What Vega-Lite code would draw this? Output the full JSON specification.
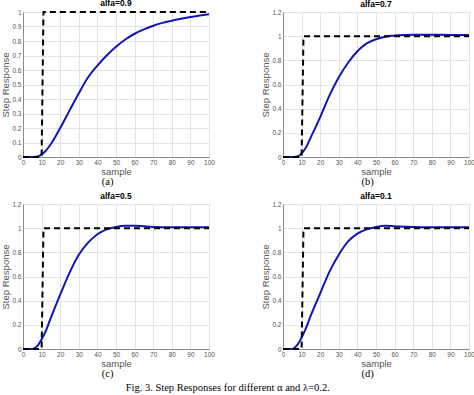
{
  "$schema": "https://vega.github.io/schema/vega-lite/v6.json",
  "padding": {"left": 0, "top": -2, "right": 0, "bottom": 0},
  "background": "white",
  "datasets": {
    "resp": [
      {"p": "a", "x": 0, "y": 0}, {"p": "a", "x": 5, "y": 0}, {"p": "a", "x": 7, "y": 0.002}, {"p": "a", "x": 9, "y": 0.01}, {"p": "a", "x": 10, "y": 0.018}, {"p": "a", "x": 12, "y": 0.04}, {"p": "a", "x": 15, "y": 0.09}, {"p": "a", "x": 20, "y": 0.2}, {"p": "a", "x": 25, "y": 0.32}, {"p": "a", "x": 30, "y": 0.44}, {"p": "a", "x": 35, "y": 0.55}, {"p": "a", "x": 40, "y": 0.63}, {"p": "a", "x": 45, "y": 0.7}, {"p": "a", "x": 50, "y": 0.76}, {"p": "a", "x": 55, "y": 0.81}, {"p": "a", "x": 60, "y": 0.85}, {"p": "a", "x": 65, "y": 0.88}, {"p": "a", "x": 70, "y": 0.905}, {"p": "a", "x": 75, "y": 0.925}, {"p": "a", "x": 80, "y": 0.94}, {"p": "a", "x": 85, "y": 0.953}, {"p": "a", "x": 90, "y": 0.965}, {"p": "a", "x": 95, "y": 0.976}, {"p": "a", "x": 100, "y": 0.985},
      {"p": "b", "x": 0, "y": 0}, {"p": "b", "x": 5, "y": 0}, {"p": "b", "x": 7, "y": 0.003}, {"p": "b", "x": 9, "y": 0.015}, {"p": "b", "x": 10, "y": 0.03}, {"p": "b", "x": 12, "y": 0.07}, {"p": "b", "x": 15, "y": 0.165}, {"p": "b", "x": 20, "y": 0.33}, {"p": "b", "x": 25, "y": 0.51}, {"p": "b", "x": 30, "y": 0.66}, {"p": "b", "x": 35, "y": 0.78}, {"p": "b", "x": 40, "y": 0.875}, {"p": "b", "x": 45, "y": 0.94}, {"p": "b", "x": 50, "y": 0.975}, {"p": "b", "x": 55, "y": 0.995}, {"p": "b", "x": 60, "y": 1.005}, {"p": "b", "x": 65, "y": 1.01}, {"p": "b", "x": 70, "y": 1.012}, {"p": "b", "x": 80, "y": 1.012}, {"p": "b", "x": 90, "y": 1.01}, {"p": "b", "x": 100, "y": 1.01},
      {"p": "c", "x": 0, "y": 0}, {"p": "c", "x": 4, "y": 0}, {"p": "c", "x": 6, "y": 0.005}, {"p": "c", "x": 8, "y": 0.03}, {"p": "c", "x": 10, "y": 0.08}, {"p": "c", "x": 12, "y": 0.14}, {"p": "c", "x": 15, "y": 0.26}, {"p": "c", "x": 20, "y": 0.45}, {"p": "c", "x": 25, "y": 0.63}, {"p": "c", "x": 30, "y": 0.78}, {"p": "c", "x": 35, "y": 0.88}, {"p": "c", "x": 40, "y": 0.95}, {"p": "c", "x": 45, "y": 0.99}, {"p": "c", "x": 50, "y": 1.01}, {"p": "c", "x": 55, "y": 1.02}, {"p": "c", "x": 60, "y": 1.02}, {"p": "c", "x": 65, "y": 1.015}, {"p": "c", "x": 70, "y": 1.01}, {"p": "c", "x": 80, "y": 1.008}, {"p": "c", "x": 90, "y": 1.008}, {"p": "c", "x": 100, "y": 1.008},
      {"p": "d", "x": 0, "y": 0}, {"p": "d", "x": 4, "y": 0}, {"p": "d", "x": 6, "y": 0.008}, {"p": "d", "x": 8, "y": 0.04}, {"p": "d", "x": 10, "y": 0.095}, {"p": "d", "x": 12, "y": 0.16}, {"p": "d", "x": 15, "y": 0.28}, {"p": "d", "x": 20, "y": 0.46}, {"p": "d", "x": 25, "y": 0.64}, {"p": "d", "x": 30, "y": 0.78}, {"p": "d", "x": 35, "y": 0.89}, {"p": "d", "x": 40, "y": 0.955}, {"p": "d", "x": 45, "y": 0.99}, {"p": "d", "x": 50, "y": 1.01}, {"p": "d", "x": 55, "y": 1.02}, {"p": "d", "x": 60, "y": 1.015}, {"p": "d", "x": 70, "y": 1.01}, {"p": "d", "x": 80, "y": 1.008}, {"p": "d", "x": 100, "y": 1.008}
    ],
    "step": [
      {"x": 0, "y": 0}, {"x": 10, "y": 0}, {"x": 11, "y": 1}, {"x": 100, "y": 1}
    ]
  },
  "config": {
    "font": "Liberation Sans",
    "view": {"stroke": "#8a8a8a", "strokeWidth": 1},
    "axis": {
      "labelFont": "Liberation Sans", "labelFontSize": 6.5, "labelColor": "#555", "labelFlush": false,
      "titleFont": "Liberation Sans", "titleFontSize": 9.5, "titleFontWeight": "normal", "titleColor": "#555",
      "gridColor": "#e3e3e3", "domainColor": "#8a8a8a", "tickColor": "#8a8a8a", "tickSize": 0, "labelPadding": 2, "titlePadding": 1
    },
    "title": {"font": "Liberation Sans", "fontSize": 8.5, "fontWeight": "bold", "color": "#000", "offset": 1}
  },
  "spacing": 4,
  "title": {"text": "Fig. 3. Step Responses for different α and λ=0.2.", "orient": "bottom", "anchor": "middle", "font": "Liberation Serif", "fontSize": 10.5, "fontWeight": "normal", "color": "#000", "offset": 4, "dx": -10},
  "vconcat": [
    {
      "hconcat": [
        {
          "vconcat": [
            {
              "width": 186, "height": 145,
              "title": "alfa=0.9",
              "encoding": {
                "x": {"field": "x", "type": "quantitative", "scale": {"domain": [0, 100], "nice": false}, "axis": {"title": "sample", "tickCount": 10, "labelOverlap": false}},
                "y": {"field": "y", "type": "quantitative", "scale": {"domain": [0, 1], "nice": false}, "axis": {"title": "Step Response", "tickCount": 10, "labelOverlap": false, "format": "~g"}}
              },
              "layer": [
                {"data": {"name": "resp"}, "transform": [{"filter": "datum.p === 'a'"}], "mark": {"type": "line", "color": "#1414b4", "strokeWidth": 2, "interpolate": "monotone"}},
                {"data": {"name": "step"}, "mark": {"type": "line", "color": "#000", "strokeWidth": 2, "strokeDash": [6, 4]}}
              ]
            }
          ],
          "title": {"text": "(a)", "orient": "bottom", "anchor": "middle", "font": "Liberation Serif", "fontSize": 10.5, "fontWeight": "normal", "offset": 0}
        },
        {
          "vconcat": [
            {
              "width": 186, "height": 145,
              "title": "alfa=0.7",
              "encoding": {
                "x": {"field": "x", "type": "quantitative", "scale": {"domain": [0, 100], "nice": false}, "axis": {"title": "sample", "tickCount": 10, "labelOverlap": false}},
                "y": {"field": "y", "type": "quantitative", "scale": {"domain": [0, 1.2], "nice": false}, "axis": {"title": "Step Response", "tickCount": 6, "labelOverlap": false, "format": "~g"}}
              },
              "layer": [
                {"data": {"name": "resp"}, "transform": [{"filter": "datum.p === 'b'"}], "mark": {"type": "line", "color": "#1414b4", "strokeWidth": 2, "interpolate": "monotone"}},
                {"data": {"name": "step"}, "mark": {"type": "line", "color": "#000", "strokeWidth": 2, "strokeDash": [6, 4]}}
              ]
            }
          ],
          "title": {"text": "(b)", "orient": "bottom", "anchor": "middle", "font": "Liberation Serif", "fontSize": 10.5, "fontWeight": "normal", "offset": 0}
        }
      ],
      "spacing": 45
    },
    {
      "hconcat": [
        {
          "vconcat": [
            {
              "width": 186, "height": 145,
              "title": "alfa=0.5",
              "encoding": {
                "x": {"field": "x", "type": "quantitative", "scale": {"domain": [0, 100], "nice": false}, "axis": {"title": "sample", "tickCount": 10, "labelOverlap": false}},
                "y": {"field": "y", "type": "quantitative", "scale": {"domain": [0, 1.2], "nice": false}, "axis": {"title": "Step Response", "tickCount": 6, "labelOverlap": false, "format": "~g"}}
              },
              "layer": [
                {"data": {"name": "resp"}, "transform": [{"filter": "datum.p === 'c'"}], "mark": {"type": "line", "color": "#1414b4", "strokeWidth": 2, "interpolate": "monotone"}},
                {"data": {"name": "step"}, "mark": {"type": "line", "color": "#000", "strokeWidth": 2, "strokeDash": [6, 4]}}
              ]
            }
          ],
          "title": {"text": "(c)", "orient": "bottom", "anchor": "middle", "font": "Liberation Serif", "fontSize": 10.5, "fontWeight": "normal", "offset": 0}
        },
        {
          "vconcat": [
            {
              "width": 186, "height": 145,
              "title": "alfa=0.1",
              "encoding": {
                "x": {"field": "x", "type": "quantitative", "scale": {"domain": [0, 100], "nice": false}, "axis": {"title": "sample", "tickCount": 10, "labelOverlap": false}},
                "y": {"field": "y", "type": "quantitative", "scale": {"domain": [0, 1.2], "nice": false}, "axis": {"title": "Step Response", "tickCount": 6, "labelOverlap": false, "format": "~g"}}
              },
              "layer": [
                {"data": {"name": "resp"}, "transform": [{"filter": "datum.p === 'd'"}], "mark": {"type": "line", "color": "#1414b4", "strokeWidth": 2, "interpolate": "monotone"}},
                {"data": {"name": "step"}, "mark": {"type": "line", "color": "#000", "strokeWidth": 2, "strokeDash": [6, 4]}}
              ]
            }
          ],
          "title": {"text": "(d)", "orient": "bottom", "anchor": "middle", "font": "Liberation Serif", "fontSize": 10.5, "fontWeight": "normal", "offset": 0}
        }
      ],
      "spacing": 45
    }
  ]
}
